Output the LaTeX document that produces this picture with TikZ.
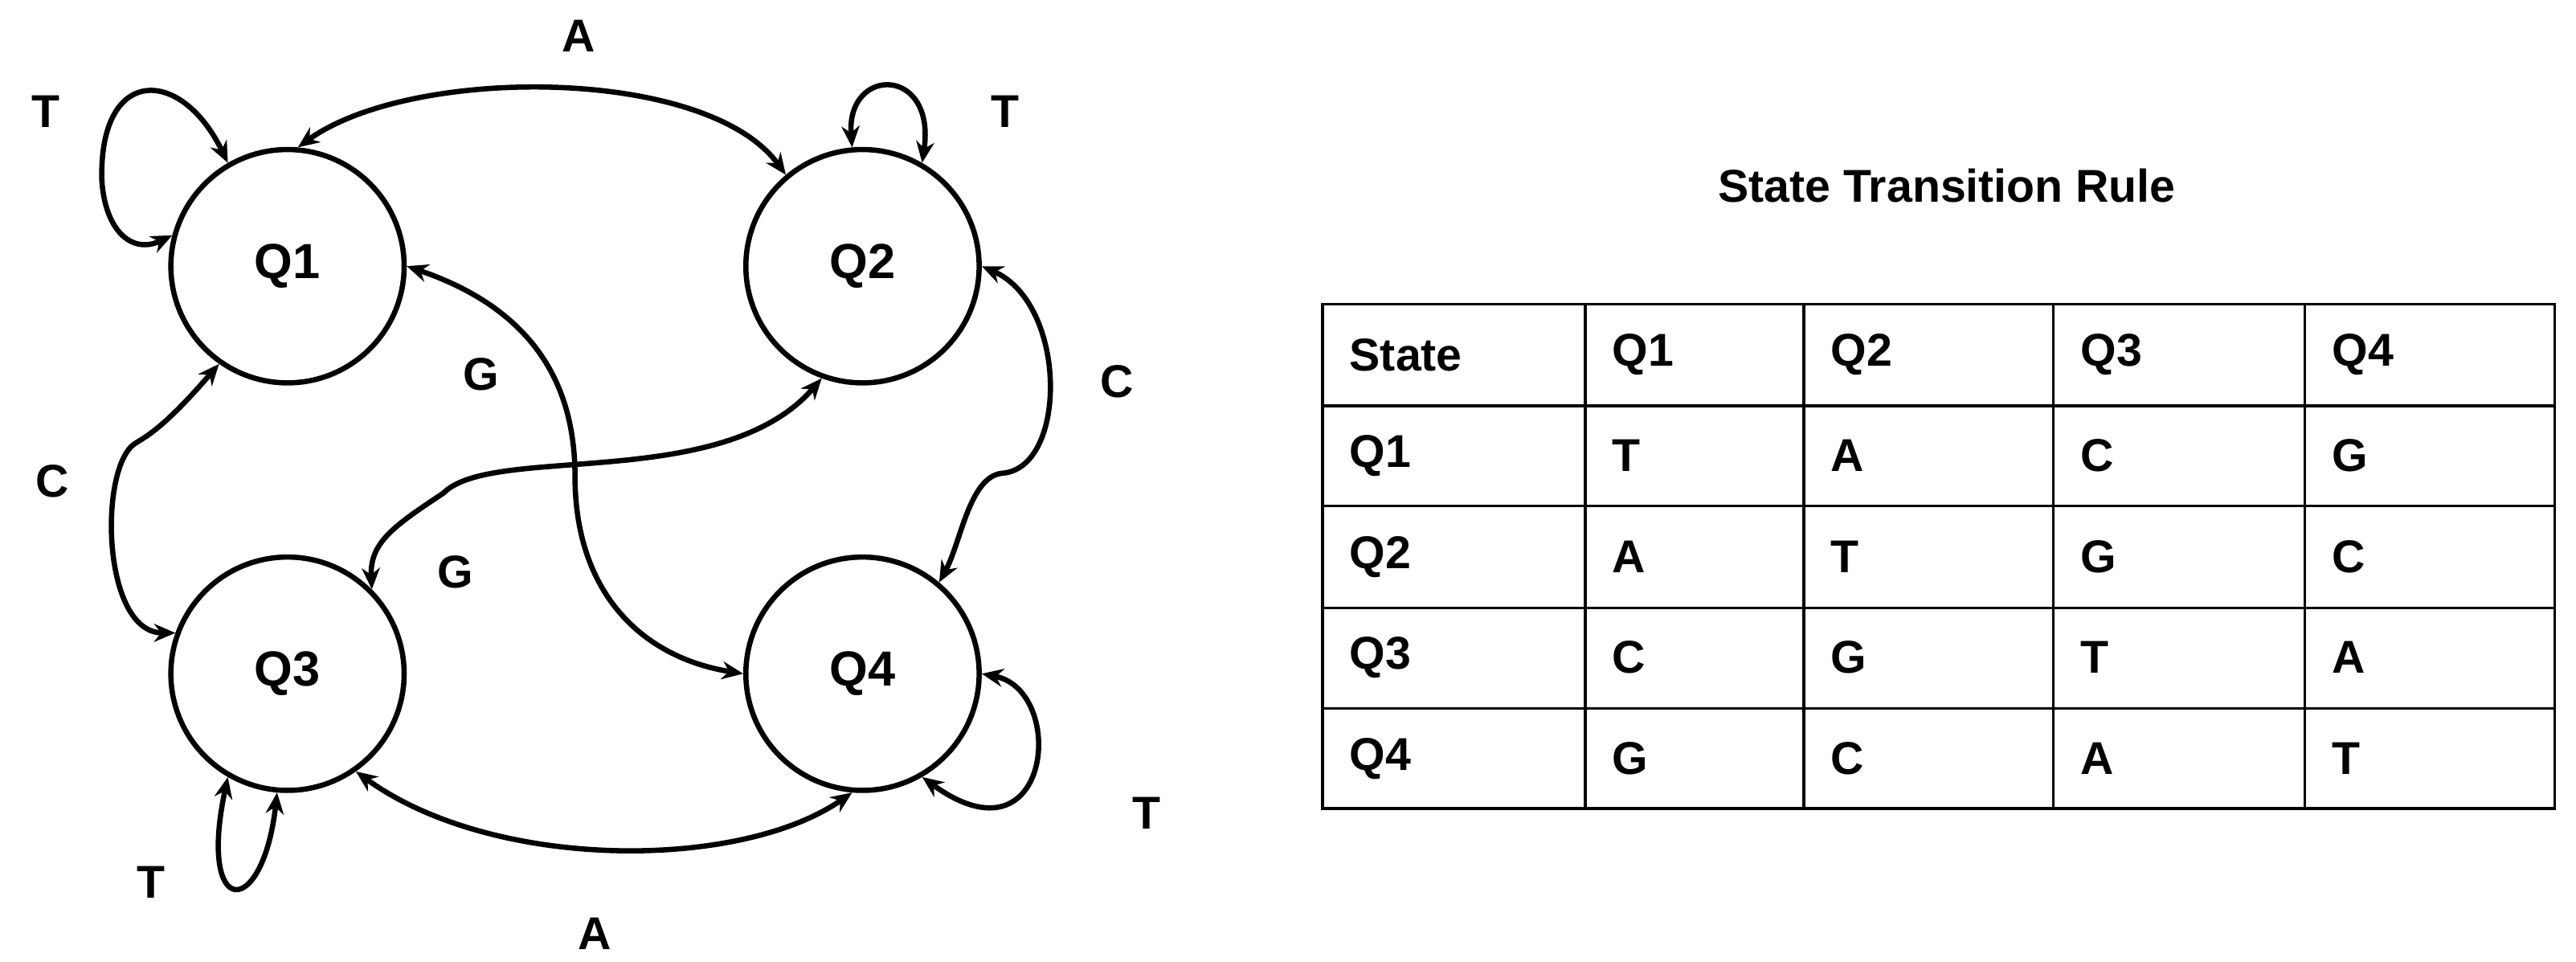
\documentclass[tikz,border=0pt]{standalone}
\usepackage{fontspec}
\setmainfont{Liberation Sans}
\usetikzlibrary{arrows.meta}
\begin{document}
\begin{tikzpicture}[x=1pt,y=-1pt,
  st/.style={circle,draw,line width=3.2pt,minimum size=142pt,font=\fontsize{30}{30}\selectfont\bfseries},
  ed/.style={line width=3.2pt,{Stealth[length=13pt,width=11pt]}-{Stealth[length=13pt,width=11pt]}},
  lb/.style={font=\fontsize{28}{28}\selectfont\bfseries},
  tx/.style={font=\fontsize{28}{28}\selectfont\bfseries,anchor=west}]
\useasboundingbox (0,0) rectangle (1568,585);
\node[st] (q1) at (175,162) {Q1};
\node[st] (q2) at (525,162) {Q2};
\node[st] (q3) at (175,410) {Q3};
\node[st] (q4) at (525,410) {Q4};
% loops
\draw[ed] (q1.120) .. controls (110,40) and (60,40) .. (62,110) .. controls (64,140) and (80,155) .. (q1.165);
\draw[ed] (q2.95) .. controls (515,40) and (570,40) .. (q2.60);
\draw[ed] (q3.240) .. controls (120,560) and (160,560) .. (q3.265);
\draw[ed] (q4.0) .. controls (650,420) and (640,530) .. (q4.300);
% A edges
\draw[ed] (q1.85) .. controls (250,40) and (430,40) .. (q2.130);
\draw[ed] (q3.305) .. controls (300,530) and (450,530) .. (q4.265);
% C edges
\draw[ed] (q1.235) .. controls (100,260) and (90,265) .. (82,270) .. controls (60,285) and (62,385) .. (q3.160);
\draw[ed] (q2.0) .. controls (650,185) and (650,285) .. (610,288) .. controls (590,290) and (585,330) .. (q4.50);
% G edges
\draw[ed] (q1.0) .. controls (330,190) and (350,240) .. (350,290) .. controls (350,360) and (390,400) .. (q4.180);
\draw[ed] (q2.250) .. controls (440,300) and (300,270) .. (270,300) .. controls (240,320) and (225,330) .. (q3.45);
% labels
\node[lb] at (352,22) {A};
\node[lb] at (28,68) {T};
\node[lb] at (612,68) {T};
\node[lb] at (293,228) {G};
\node[lb] at (32,293) {C};
\node[lb] at (277,348) {G};
\node[lb] at (680,232) {C};
\node[lb] at (92,537) {T};
\node[lb] at (362,568) {A};
\node[lb] at (698,495) {T};
% table
\node[font=\fontsize{28}{28}\selectfont\bfseries] (title) at (1185,113) {State Transition Rule};
\draw[line width=1.6pt] (805,185) rectangle (1555,492);
\foreach \y in {247,308,370,431} \draw[line width=1.6pt] (805,\y) -- (1555,\y);
\foreach \x in {965,1098,1250,1403} \draw[line width=1.6pt] (\x,185) -- (\x,492);
\def\cols{{818,978,1111,1263,1416}}
\foreach \r [count=\i from 0] in {{State,Q1,Q2,Q3,Q4},{Q1,T,A,C,G},{Q2,A,T,G,C},{Q3,C,G,T,A},{Q4,G,C,A,T}}{
  \foreach \c [count=\j from 0] in \r {
    \pgfmathsetmacro\xx{\cols[\j]}
    \node[tx] (c\i\j) at (\xx,216+61.4*\i) {\c};
  }
}
\end{tikzpicture}
\end{document}
